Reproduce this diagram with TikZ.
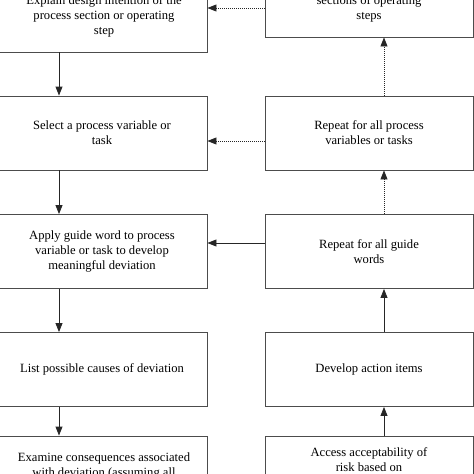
\documentclass[tikz,border=0pt]{standalone}
\usepackage{fontspec}
\setmainfont{Liberation Serif}
\usetikzlibrary{arrows.meta}
\tikzset{
  boxL/.style={draw=black!70, line width=0.9pt, minimum width=210pt, minimum height=74pt, inner sep=0pt},
  boxR/.style={draw=black!70, line width=0.9pt, minimum width=208pt, minimum height=74pt, inner sep=0pt},
  txt/.style={align=center, font=\fontsize{12.6pt}{15pt}\selectfont, inner sep=0pt},
  arr/.style={draw=black!85, line width=0.9pt, -{Triangle[length=9pt,width=7pt]}},
  dotarr/.style={arr, dash pattern=on 1pt off 1pt},
}
\begin{document}
\begin{tikzpicture}[x=1pt,y=-1pt]
\useasboundingbox (0,0) rectangle (474,474);
\clip (0,0) rectangle (474,474);
% left column
\node[boxL] (exp) at (102,15) {};
\node[txt] (expt) at (104,16) {Explain design intention of the\\process section or operating\\step};
\node[boxL,txt] (sel) at (102,133) {Select a process variable or\\task};
\node[boxL,txt] (app) at (102,251.5) {Apply guide word to process\\variable or task to develop\\meaningful deviation};
\node[boxL,txt] (lst) at (102,369.5) {List possible causes of deviation};
\node[boxL] (exa) at (102,473) {};
\node[txt] (exat) at (104,466) {Examine consequences associated\\with deviation (assuming all};
% right column
\node[boxR] (sec) at (369,0) {};
\node[txt] (sect) at (369,8.5) {sections of operating\\steps};
\node[boxR,txt] (rpv) at (369,133) {Repeat for all process\\variables or tasks};
\node[boxR,txt] (rgw) at (369,251.5) {Repeat for all guide\\words};
\node[boxR,txt] (dev) at (369,369.5) {Develop action items};
\node[boxR] (acc) at (369,473) {};
\node[txt] (acct) at (369,459.5) {Access acceptability of\\risk based on};
% left column arrows
\draw[arr] (exp.south -| 59,0) -- (sel.north -| 59,0);
\draw[arr] (sel.south -| 59,0) -- (app.north -| 59,0);
\draw[arr] (app.south -| 59,0) -- (lst.north -| 59,0);
\draw[arr] (lst.south -| 59,0) -- (exa.north -| 59,0);
% right column arrows
\draw[arr] (acc.north -| 384,0) -- (dev.south -| 384,0);
\draw[arr] (dev.north -| 384,0) -- (rgw.south -| 384,0);
\draw[dotarr] (rgw.north -| 384,0) -- (rpv.south -| 384,0);
\draw[dotarr] (rpv.north -| 384,0) -- (sec.south -| 384,0);
% horizontal arrows
\draw[dotarr] (sec.west |- 0,8) -- (exp.east |- 0,8);
\draw[dotarr] (rpv.west |- 0,141) -- (sel.east |- 0,141);
\draw[arr] (rgw.west |- 0,243) -- (app.east |- 0,243);
\end{tikzpicture}
\end{document}
